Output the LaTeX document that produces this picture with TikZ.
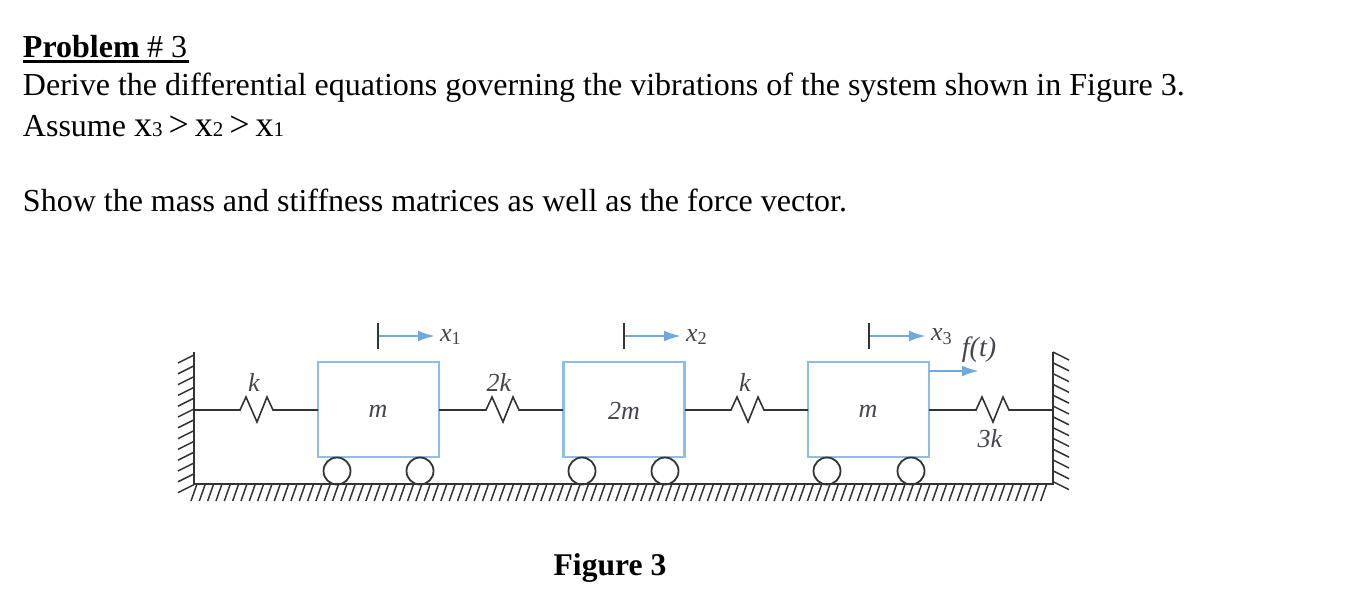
\documentclass[tikz,border=0pt]{standalone}
\usepackage{fontspec}
\setmainfont{Liberation Serif}
\usetikzlibrary{arrows.meta}
\definecolor{blueline}{HTML}{6FA9E0}
\definecolor{boxblue}{HTML}{8DBDEA}
\definecolor{ink}{HTML}{333333}
\definecolor{lab}{HTML}{45454F}
\newcommand{\tsize}[1]{\fontsize{#1}{#1}\selectfont}
\tikzset{
  txt/.style={anchor=base west,inner sep=0pt,outer sep=0pt,font=\tsize{16pt}},
  capt/.style={anchor=base,inner sep=0pt,font=\tsize{15.8pt}\bfseries},
  lbl/.style={inner sep=0pt,text=lab,font=\tsize{13pt}\itshape},
  mass/.style={draw=boxblue,line width=1.25pt,minimum width=60.5pt,minimum height=47.5pt,inner sep=0pt,fill=white},
  wheel/.style={circle,draw=ink,line width=0.9pt,minimum size=13.5pt,inner sep=0pt},
  wallline/.style={draw=ink,line width=1pt},
  hatchline/.style={draw=ink,line width=0.75pt},
  springline/.style={draw=ink,line width=0.8pt,line join=miter},
  barline/.style={draw=ink,line width=0.8pt},
  motion/.style={draw=blueline,line width=1.2pt,-{Latex[length=8.5pt,width=5.5pt]}}
}
% spring from #1 to #2, the zigzag beginning #3 after #1
\newcommand{\spring}[3]{\draw[springline] (#1) -- ++(#3,0) -- ++(6,-13) -- ++(11,25) -- ++(10,-25) -- ++(6,13) -- (#2);}
\begin{document}
\begin{tikzpicture}[x=0.5pt,y=-0.5pt]
\useasboundingbox (0,0) rectangle (1365,589);
% text
\node[txt,font=\tsize{16pt}\bfseries] (title) at (23,57) {Problem};
\node[txt] (hash) at (147,57) {\# 3};
\coordinate (ulL) at (23,61.5); \coordinate (ulR) at (189,61.5);
\draw[line width=1.4pt] (ulL) -- (ulR);
\node[txt] (l1) at (23,95) {Derive the differential equations governing the vibrations of the system shown in Figure 3.};
\node[txt] (l2) at (23,136.5) {Assume {\tsize{18pt}x}{\tsize{10.5pt}3}{\tsize{18pt}\,>\,x}{\tsize{10.5pt}2}{\tsize{18pt}\,>\,x}{\tsize{10.5pt}1}};
\node[txt] (l3) at (23,211) {Show the mass and stiffness matrices as well as the force vector.};
\node[capt] (fig) at (610,575) {Figure 3};
% ground and walls
\coordinate (gl) at (194,484); \coordinate (gr) at (1053,484);
\coordinate (wlt) at (194,352); \coordinate (wrt) at (1053,352);
\foreach \i in {0,...,102}{\draw[hatchline] (197+8.33*\i,484) -- ++(-6,17);}
\foreach \i in {0,...,12}{\draw[hatchline] (194,355+10.8*\i) -- ++(-16,8);}
\foreach \i in {0,...,12}{\draw[hatchline] (1053,352+10.8*\i) -- ++(16,8);}
\draw[wallline] (wlt) -- (gl) -- (gr) -- (wrt);
% masses
\node[mass] (m1) at (378.5,409.5) {};
\node[mass] (m2) at (624,409.5) {};
\node[mass] (m3) at (868.5,409.5) {};
\node[lbl] (lm1) at (378,411) {m};
\node[lbl] (lm2) at (624,411) {2m};
\node[lbl] (lm3) at (868,411) {m};
% wheels
\foreach \n/\x in {a/337,b/420,c/582,d/665,e/827,f/911}{\node[wheel] (w\n) at (\x,471) {};}
% springs
\coordinate (sl) at (194,410); \coordinate (sr) at (1053,410);
\coordinate (m1w) at (318,410); \coordinate (m1e) at (439,410);
\coordinate (m2w) at (563,410); \coordinate (m2e) at (685,410);
\coordinate (m3w) at (808,410); \coordinate (m3e) at (929,410);
\spring{sl}{m1w}{46}
\spring{m1e}{m2w}{47}
\spring{m2e}{m3w}{46}
\spring{m3e}{sr}{47}
\node[lbl] (k1) at (254,382) {k};
\node[lbl] (k2) at (499,382) {2k};
\node[lbl] (k3) at (745,382) {k};
\node[lbl] (k4) at (990,439) {3k};
% displacement markers
\foreach \n/\x in {1/378,2/624,3/869}{
  \coordinate (b\n t) at (\x,323); \coordinate (b\n b) at (\x,349);
  \coordinate (a\n s) at (\x,336); \coordinate (a\n e) at (\x+57,336);
  \draw[motion] (a\n s) -- (a\n e);
  \draw[barline] (b\n t) -- (b\n b);
}
\node[lbl] (x1) at (451,337) {x$_{\mathrm{1}}$};
\node[lbl] (x2) at (697,337) {x$_{\mathrm{2}}$};
\node[lbl] (x3) at (942,337) {x$_{\mathrm{3}}$};
\coordinate (fs) at (929,371); \coordinate (fe) at (979,371);
\draw[motion] (fs) -- (fe);
\node[lbl,font=\tsize{14pt}\itshape] (ft) at (979,350) {f(t)};
\end{tikzpicture}
\end{document}
